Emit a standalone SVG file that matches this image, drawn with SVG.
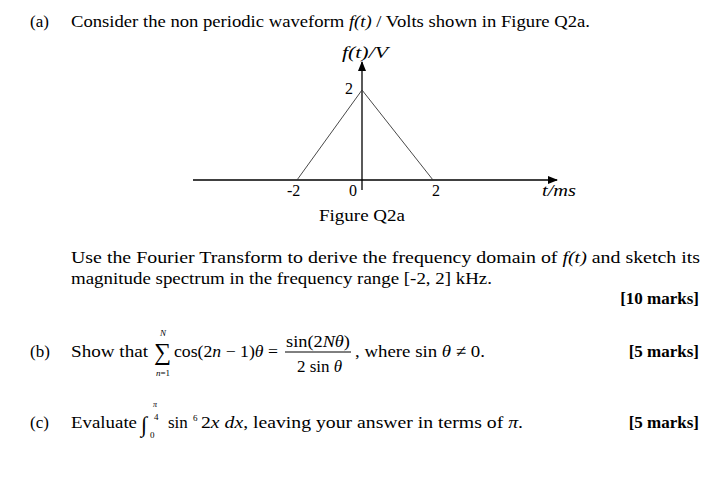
<svg xmlns="http://www.w3.org/2000/svg" width="724" height="485" viewBox="0 0 724 485">
<style>
text{font-family:"Liberation Serif","DejaVu Serif",serif;font-size:17px;fill:#000}
.s{font-size:16px}
.i{font-style:italic}
.b{font-weight:bold}
.ax{stroke:#000;stroke-width:1.3;fill:none}
.ln{stroke:#333;stroke-width:0.9;fill:none}
</style>
<defs><marker id="ar" markerWidth="10" markerHeight="10" refX="9" refY="5" orient="auto" markerUnits="userSpaceOnUse"><path d="M0,1 L10,5 L0,9 Z" fill="#000"/></marker></defs>
<rect width="724" height="485" fill="#fff"/>
<text x="30" y="27">(a)</text>
<text x="71" y="27" textLength="519" lengthAdjust="spacingAndGlyphs">Consider the non periodic waveform <tspan class="i">f(t)</tspan> / Volts shown in Figure Q2a.</text>
<g id="connectors">
<line class="ax" x1="193" y1="180" x2="557" y2="180" marker-end="url(#ar)"/>
<line class="ax" x1="362" y1="190" x2="362" y2="62" marker-end="url(#ar)"/>
<polyline class="ln" points="297,180 362,90 433,180"/>
</g>
<g id="labels">
<text class="s i" x="342" y="58" textLength="46" lengthAdjust="spacingAndGlyphs">f(t)/V</text>
<text class="s" x="345" y="94">2</text>
<text class="s" x="287" y="196">-2</text>
<text class="s" x="349" y="196">0</text>
<text class="s" x="432" y="196">2</text>
<text class="s i" x="542" y="196" textLength="34" lengthAdjust="spacingAndGlyphs">t/ms</text>
<text class="s" x="362" y="221" text-anchor="middle" textLength="86" lengthAdjust="spacingAndGlyphs">Figure Q2a</text>
</g>
<text x="71" y="263" textLength="629" lengthAdjust="spacingAndGlyphs">Use the Fourier Transform to derive the frequency domain of <tspan class="i">f(t)</tspan> and sketch its</text>
<text x="71" y="284" textLength="421" lengthAdjust="spacingAndGlyphs">magnitude spectrum in the frequency range [-2, 2] kHz.</text>
<text class="b" x="699" y="304" text-anchor="end">[10 marks]</text>
<text x="30" y="357">(b)</text>
<text x="71" y="357" textLength="77" lengthAdjust="spacingAndGlyphs">Show that</text>
<text x="154" y="360" style="font-size:24px">∑</text>
<text x="160" y="336" style="font-size:9px" class="i">N</text>
<text x="156" y="376" style="font-size:9px"><tspan class="i">n</tspan>=1</text>
<text x="174" y="357" textLength="104" lengthAdjust="spacingAndGlyphs">cos(2<tspan class="i">n</tspan> − 1)<tspan class="i">θ</tspan> =</text>
<text x="286" y="347" textLength="64" lengthAdjust="spacingAndGlyphs">sin(2<tspan class="i">Nθ</tspan>)</text>
<line x1="285" y1="352" x2="351" y2="352" stroke="#000" stroke-width="1"/>
<text x="297" y="372">2 sin <tspan class="i">θ</tspan></text>
<text x="355" y="357" textLength="130" lengthAdjust="spacingAndGlyphs">, where sin <tspan class="i">θ</tspan> ≠ 0.</text>
<text class="b" x="699" y="357" text-anchor="end">[5 marks]</text>
<text x="30" y="428">(c)</text>
<text x="71" y="428" textLength="66" lengthAdjust="spacingAndGlyphs">Evaluate</text>
<text x="141" y="432" style="font-size:22px">∫</text>
<text x="153" y="407" style="font-size:8px" class="i">π</text>
<text x="154" y="420" style="font-size:9px">4</text>
<text x="150" y="438" style="font-size:9px">0</text>
<text x="168" y="428">sin</text>
<text x="193" y="421" style="font-size:9px">6</text>
<text x="201" y="428" textLength="322" lengthAdjust="spacingAndGlyphs">2<tspan class="i">x  dx</tspan>, leaving your answer in terms of <tspan class="i">π</tspan>.</text>
<text class="b" x="699" y="428" text-anchor="end">[5 marks]</text>
</svg>
